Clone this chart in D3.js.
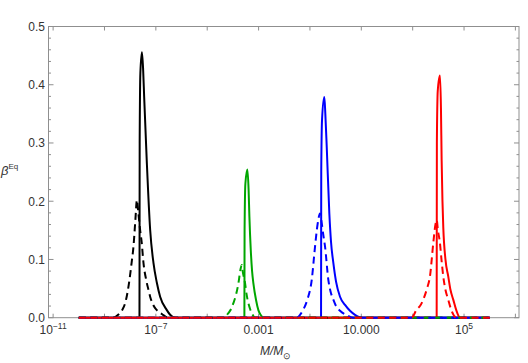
<!DOCTYPE html>
<html>
<head>
<meta charset="utf-8">
<script src="https://cdn.jsdelivr.net/npm/d3@7"></script>
<style>
  body { margin: 0; background: #fff; }
  svg { display: block; font-family: "Liberation Sans", Arial, sans-serif; }
</style>
</head>
<body>
<svg id="chart" width="528" height="363"></svg>
<script>
/* ── Data: [log10(M/Msun), beta^Eq] ───────────────────────────────── */

const blackSolid = [[-10, 0], [-7.638, 0], [-7.630, 0.30], [-7.603, 0.42], [-7.541, 0.456], [-7.494, 0.425],
  [-7.455, 0.379], [-7.350, 0.265], [-7.222, 0.151], [-7.093, 0.094], [-6.961, 0.060], [-6.833, 0.036],
  [-6.572, 0.013], [-6.444, 0.005], [-6.249, 0], [6, 0]];
const blackDashed = [[-10, 0], [-8.661, 0], [-8.467, 0.005], [-8.311, 0.013], [-8.195, 0.025], [-8.027, 0.065],
  [-7.942, 0.095], [-7.872, 0.122], [-7.794, 0.17], [-7.739, 0.202], [-7.681, 0.18], [-7.611, 0.15],
  [-7.553, 0.13], [-7.482, 0.094], [-7.377, 0.065], [-7.288, 0.048], [-7.222, 0.036], [-7.105, 0.022],
  [-6.961, 0.013], [-6.755, 0.006], [-6.521, 0], [6, 0]];

const greenSolid = [[-10, 0], [-3.553, 0], [-3.545, 0.15], [-3.514, 0.23], [-3.436, 0.2546], [-3.389, 0.22],
  [-3.358, 0.174], [-3.304, 0.116], [-3.253, 0.08], [-3.202, 0.059], [-3.097, 0.030], [-3.008, 0.013],
  [-2.922, 0.005], [-2.813, 0], [6, 0]];
const greenDashed = [[-10, 0], [-4.370, 0], [-4.175, 0.008], [-4.070, 0.015], [-3.981, 0.025], [-3.875, 0.04],
  [-3.786, 0.059], [-3.708, 0.082], [-3.654, 0.0907], [-3.611, 0.078], [-3.525, 0.059], [-3.467, 0.04],
  [-3.397, 0.025], [-3.331, 0.015], [-3.265, 0.008], [-3.136, 0], [6, 0]];

const blueSolid = [[-10, 0], [-0.568, 0], [-0.560, 0.25], [-0.529, 0.34], [-0.440, 0.379], [-0.401, 0.35],
  [-0.346, 0.293], [-0.245, 0.179], [-0.179, 0.13], [-0.089, 0.094], [0.016, 0.062], [0.171, 0.036],
  [0.366, 0.022], [0.560, 0.012], [0.755, 0.005], [1.016, 0], [6, 0]];
const blueDashed = [[-10, 0], [-1.502, 0], [-1.385, 0.005], [-1.257, 0.014], [-1.101, 0.031], [-0.930, 0.065],
  [-0.802, 0.122], [-0.704, 0.16], [-0.607, 0.179], [-0.549, 0.165], [-0.490, 0.145], [-0.412, 0.122],
  [-0.284, 0.065], [-0.198, 0.045], [-0.089, 0.031], [0.016, 0.02], [0.171, 0.012], [0.405, 0.005],
  [0.677, 0], [6, 0]];

const redSolid = [[-10, 0], [3.934, 0], [3.942, 0.30], [3.977, 0.39], [4.062, 0.416], [4.101, 0.36],
  [4.128, 0.27], [4.160, 0.2], [4.191, 0.156], [4.276, 0.10], [4.385, 0.071], [4.471, 0.048],
  [4.580, 0.031], [4.704, 0.012], [4.840, 0], [6, 0]];
const redDashed = [[-10, 0], [2.961, 0], [3.156, 0.014], [3.284, 0.02], [3.412, 0.031], [3.556, 0.05],
  [3.673, 0.071], [3.802, 0.128], [3.887, 0.16], [3.934, 0.168], [3.984, 0.15], [4.062, 0.128],
  [4.121, 0.1], [4.191, 0.071], [4.276, 0.048], [4.385, 0.031], [4.490, 0.015], [4.712, 0], [6, 0]];

// x ticks every two decades, labels on every fourth
const xTickExps = [-11, -9, -7, -5, -3, -1, 1, 3, 5, 7];
const xTickLabels = { '-11': ['10', '−11'], '-7': ['10', '−7'], '-3': ['0.001'], '1': ['10.000'], '5': ['10', '5'] };
const yMajorTicks = [0, 0.1, 0.2, 0.3, 0.4, 0.5];
const yMinorTicks = [0.02, 0.04, 0.06, 0.08, 0.12, 0.14, 0.16, 0.18, 0.22, 0.24, 0.26, 0.28,
  0.32, 0.34, 0.36, 0.38, 0.42, 0.44, 0.46, 0.48];

/* ── Layout ───────────────────────────────────────────────────────── */

const plotLeft = 48.5, plotRight = 519, plotTop = 26.5, plotBottom = 317.7;
const frameColor = '#8f8f8f';
const labelColor = '#333';

const svg = d3.select('#chart');

const x = d3.scaleLog().domain([10 ** -11.18, 10 ** 7.14]).range([plotLeft, plotRight]);
const y = d3.scaleLinear().domain([0, 0.5]).range([plotBottom, plotTop]);

/* ── Frame & ticks ────────────────────────────────────────────────── */

const frame = svg.append('g').attr('stroke', frameColor).attr('stroke-width', 1).attr('fill', 'none');
frame.append('rect')
  .attr('x', plotLeft).attr('y', plotTop)
  .attr('width', plotRight - plotLeft).attr('height', plotBottom - plotTop);

for (const e of xTickExps) {
  const xp = x(10 ** e);
  frame.append('line').attr('x1', xp).attr('x2', xp).attr('y1', plotBottom).attr('y2', plotBottom - 4);
  frame.append('line').attr('x1', xp).attr('x2', xp).attr('y1', plotTop).attr('y2', plotTop + 4);
}
for (const v of yMajorTicks) {
  frame.append('line').attr('x1', plotLeft).attr('x2', plotLeft + 5).attr('y1', y(v)).attr('y2', y(v));
  frame.append('line').attr('x1', plotRight).attr('x2', plotRight - 5).attr('y1', y(v)).attr('y2', y(v));
}
for (const v of yMinorTicks) {
  frame.append('line').attr('x1', plotLeft).attr('x2', plotLeft + 2.5).attr('y1', y(v)).attr('y2', y(v));
  frame.append('line').attr('x1', plotRight).attr('x2', plotRight - 2.5).attr('y1', y(v)).attr('y2', y(v));
}

// y tick labels
svg.append('g').selectAll('text')
  .data(yMajorTicks)
  .join('text')
  .attr('x', plotLeft - 3.5)
  .attr('y', d => y(d) + 4.3)
  .attr('text-anchor', 'end')
  .attr('font-size', 12)
  .attr('fill', labelColor)
  .text(d => d.toFixed(1));

// x tick labels (some with superscript exponent)
const xl = svg.append('g').attr('font-size', 12).attr('fill', labelColor);
for (const e of xTickExps) {
  const parts = xTickLabels[String(e)];
  if (!parts) continue;
  const t = xl.append('text')
    .attr('x', x(10 ** e))
    .attr('y', 334)
    .attr('text-anchor', 'middle');
  t.append('tspan').text(parts[0]);
  if (parts[1]) {
    t.append('tspan').attr('font-size', 8.5).attr('dy', -5).text(parts[1]);
  }
}

/* ── Curves ───────────────────────────────────────────────────────── */

const line = d3.line()
  .x(d => x(10 ** d[0]))
  .y(d => y(d[1]))
  .curve(d3.curveMonotoneX);

const series = [
  { data: blackSolid, color: '#000000', dashed: false },
  { data: greenSolid, color: '#00a600', dashed: false },
  { data: blueSolid, color: '#0000ff', dashed: false },
  { data: redSolid, color: '#ff0000', dashed: false },
  { data: blackDashed, color: '#000000', dashed: true },
  { data: greenDashed, color: '#00a600', dashed: true },
  { data: blueDashed, color: '#0000ff', dashed: true },
  { data: redDashed, color: '#ff0000', dashed: true },
];

svg.append('g').selectAll('path')
  .data(series)
  .join('path')
  .attr('d', d => line(d.data))
  .attr('fill', 'none')
  .attr('stroke', d => d.color)
  .attr('stroke-width', 2)
  .attr('stroke-linejoin', 'round')
  .attr('stroke-dasharray', d => d.dashed ? '7,4.5' : null);

/* ── Axis titles ──────────────────────────────────────────────────── */

const xt = svg.append('text')
  .attr('x', 260)
  .attr('y', 355)
  .attr('font-size', 12)
  .attr('fill', labelColor);
xt.append('tspan').attr('font-style', 'italic').text('M/M');
xt.append('tspan').attr('font-size', 9).attr('dy', 4).text('⊙');

const yt = svg.append('text')
  .attr('x', 1)
  .attr('y', 175)
  .attr('font-size', 13)
  .attr('fill', labelColor);
yt.append('tspan').attr('font-style', 'italic').text('β');
yt.append('tspan').attr('font-size', 8).attr('dy', -6).text('Eq');
</script>
</body>
</html>
